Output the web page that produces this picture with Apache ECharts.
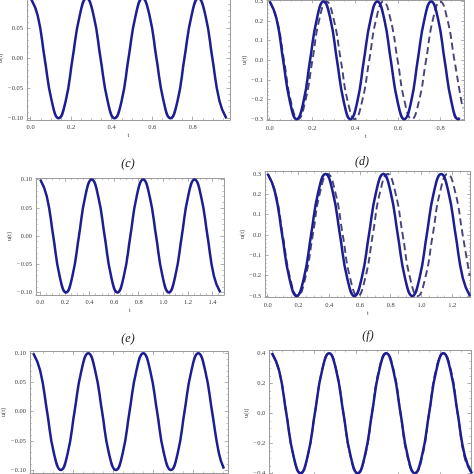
<!DOCTYPE html>
<html><head><meta charset="utf-8">
<script src="https://cdn.jsdelivr.net/npm/echarts@6/dist/echarts.min.js"></script>
<style>html,body{margin:0;padding:0;background:#fff}#c{width:474px;height:474px}</style>
</head><body><div id="c"></div>
<script>
// ---- data (t, u(t)) ----
const aT = [0,0.035,0.069,0.104,0.138,0.173,0.207,0.242,0.276,0.311,0.345,0.380,0.414,0.449,0.483,0.518,0.552,0.587,0.621,0.656,0.690,0.725,0.759,0.794,0.828,0.863,0.897,0.932,0.966];
const aU = [0.1,0.071,0,-0.071,-0.1,-0.071,0,0.071,0.1,0.071,0,-0.071,-0.1,-0.071,0,0.071,0.1,0.071,0,-0.071,-0.1,-0.071,0,0.071,0.1,0.071,0,-0.071,-0.1];

const bT = [0,0.032,0.063,0.095,0.126,0.158,0.189,0.221,0.252,0.284,0.315,0.347,0.378,0.410,0.441,0.473,0.504,0.536,0.567,0.599,0.630,0.662,0.693,0.725,0.756,0.788,0.819,0.851,0.882,0.890];
const bU = [0.3,0.212,0,-0.212,-0.3,-0.212,0,0.212,0.3,0.212,0,-0.212,-0.3,-0.212,0,0.212,0.3,0.212,0,-0.212,-0.3,-0.212,0,0.212,0.3,0.212,0,-0.212,-0.3,-0.294];
const bDT = [0,0.033,0.067,0.100,0.133,0.166,0.200,0.233,0.266,0.299,0.333,0.366,0.399,0.432,0.466,0.499,0.532,0.565,0.599,0.632,0.665,0.698,0.732,0.765,0.798,0.831,0.865,0.898,0.905];
const bDU = [0.3,0.212,0,-0.212,-0.3,-0.212,0,0.212,0.3,0.212,0,-0.212,-0.3,-0.212,0,0.212,0.3,0.212,0,-0.212,-0.3,-0.212,0,0.212,0.3,0.212,0,-0.212,-0.245];

const cT = [0,0.052,0.105,0.157,0.209,0.261,0.314,0.366,0.418,0.470,0.523,0.575,0.627,0.679,0.732,0.784,0.836,0.888,0.941,0.993,1.045,1.097,1.150,1.202,1.254,1.306,1.359,1.411,1.463];
const cU = [0.1,0.071,0,-0.071,-0.1,-0.071,0,0.071,0.1,0.071,0,-0.071,-0.1,-0.071,0,0.071,0.1,0.071,0,-0.071,-0.1,-0.071,0,0.071,0.1,0.071,0,-0.071,-0.1];

const dT = [0,0.047,0.094,0.141,0.188,0.235,0.282,0.329,0.376,0.423,0.470,0.517,0.564,0.611,0.658,0.705,0.752,0.799,0.846,0.893,0.940,0.987,1.034,1.081,1.128,1.175,1.222,1.269,1.316];
const dU = [0.3,0.212,0,-0.212,-0.3,-0.212,0,0.212,0.3,0.212,0,-0.212,-0.3,-0.212,0,0.212,0.3,0.212,0,-0.212,-0.3,-0.212,0,0.212,0.3,0.212,0,-0.212,-0.3];
const dDT = [0,0.049,0.098,0.146,0.195,0.244,0.293,0.341,0.390,0.439,0.488,0.536,0.585,0.634,0.683,0.731,0.780,0.829,0.878,0.926,0.975,1.024,1.073,1.121,1.170,1.219,1.268,1.313];
const dDU = [0.3,0.212,0,-0.212,-0.3,-0.212,0,0.212,0.3,0.212,0,-0.212,-0.3,-0.212,0,0.212,0.3,0.212,0,-0.212,-0.3,-0.212,0,0.212,0.3,0.212,0,-0.2];

const eT = [0,0.034,0.069,0.103,0.138,0.172,0.206,0.241,0.275,0.309,0.344,0.378,0.413,0.447,0.481,0.516,0.550,0.584,0.619,0.653,0.688,0.722,0.756,0.791,0.825,0.859,0.894,0.928,0.953];
const eU = [0.1,0.071,0,-0.071,-0.1,-0.071,0,0.071,0.1,0.071,0,-0.071,-0.1,-0.071,0,0.071,0.1,0.071,0,-0.071,-0.1,-0.071,0,0.071,0.1,0.071,0,-0.071,-0.0975];

const fT = [0,0.034,0.068,0.102,0.136,0.170,0.204,0.238,0.272,0.306,0.340,0.374,0.408,0.442,0.476,0.510,0.544,0.578,0.612,0.646,0.680,0.714,0.748,0.782,0.816,0.850,0.884,0.918,0.952];
const fU = [0.4,0.283,0,-0.283,-0.4,-0.283,0,0.283,0.4,0.283,0,-0.283,-0.4,-0.283,0,0.283,0.4,0.283,0,-0.283,-0.4,-0.283,0,0.283,0.4,0.283,0,-0.283,-0.4];
const fDU = [0.4,0.283,0,-0.283,-0.4,-0.283,0,0.283,0.4,0.29,0,-0.29,-0.4,-0.292,0,0.294,0.4,0.296,0,-0.296,-0.4,-0.298,0,0.298,0.4,0.3,0,-0.3,-0.4];

const captions = ['(c)', '(d)', '(e)', '(f)'];
const xTitle = 't';
const yTitle = 'u(t)';

// ---- layout (pixels) ----
const panels = [
  {left:27,    top:-3.4,  width:203,   height:123.4, xMin:-0.018,  xMax:0.984, xStep:0.2, xDec:1, yMin:-0.1028, yMax:0.1028, yStep:0.05, yDec:2, yMinor:5, yGap:20, xGap:11},
  {left:267,   top:-0.1,  width:197.7, height:120.8, xMin:-0.0126, xMax:0.913, xStep:0.2, xDec:1, yMin:-0.308,  yMax:0.308,  yStep:0.1,  yDec:1, yMinor:5, yGap:17, xGap:11},
  {left:36,    top:178.3, width:188,   height:116.7, xMin:-0.035,  xMax:1.493, xStep:0.2, xDec:1, yMin:-0.1046, yMax:0.1023, yStep:0.05, yDec:2, yMinor:5, yGap:22, xGap:10},
  {left:265,   top:171.7, width:205.7, height:125.6, xMin:-0.0176, xMax:1.32,  xStep:0.2, xDec:1, yMin:-0.306,  yMax:0.311,  yStep:0.1,  yDec:1, yMinor:5, yGap:17, xGap:12},
  {left:30,    top:351.7, width:198.3, height:121.6, xMin:-0.0165, xMax:0.975, xStep:0.2, xDec:1, yMin:-0.1055, yMax:0.1028, yStep:0.05, yDec:2, yMinor:5, yGap:17, xGap:11},
  {left:269.3, top:350.7, width:201.8, height:125.2, xMin:-0.013,  xMax:0.948, xStep:0.2, xDec:1, yMin:-0.417,  yMax:0.417,  yStep:0.2,  yDec:1, yMinor:4, yGap:20, xGap:11}
];
const captionPos = [[128,164],[362,162],[128,338.5],[368,335.5]];

const curves = [
  {p:0, t:aT,  u:aU,  dashed:false},
  {p:1, t:bDT, u:bDU, dashed:true},
  {p:1, t:bT,  u:bU,  dashed:false},
  {p:2, t:cT,  u:cU,  dashed:false},
  {p:3, t:dDT, u:dDU, dashed:true},
  {p:3, t:dT,  u:dU,  dashed:false},
  {p:4, t:eT,  u:eU,  dashed:false},
  {p:5, t:fT,  u:fDU, dashed:true},
  {p:5, t:fT,  u:fU,  dashed:false}
];

const FRAME = '#9c9c9c', LABEL = '#444', FONT = '"Liberation Serif", serif';
function fmt(dec){ return v => { if (Math.abs(v) < 1e-9) v = 0; return (v < 0 ? '\u2212' : '') + Math.abs(v).toFixed(dec); }; }

const grid = [], xAxis = [], yAxis = [];
panels.forEach((P, i) => {
  grid.push({left:P.left, top:P.top, width:P.width, height:P.height, containLabel:false, outerBoundsMode:'none'});
  const common = {
    type:'value', gridIndex:i, splitLine:{show:false},
    axisLine:{show:true, onZero:false, lineStyle:{color:FRAME, width:1}},
    axisTick:{show:true, inside:true, length:3.5, lineStyle:{color:FRAME, width:0.8}},
    minorTick:{show:true, length:1.8, lineStyle:{color:FRAME, width:0.6}}
  };
  const xc = Object.assign({}, common, {min:P.xMin, max:P.xMax, minInterval:P.xStep, maxInterval:P.xStep, splitNumber:5});
  const yc = Object.assign({}, common, {min:P.yMin, max:P.yMax, minInterval:P.yStep, maxInterval:P.yStep, splitNumber:4});
  xAxis.push(Object.assign({}, xc, {position:'bottom',
    minorTick:Object.assign({}, common.minorTick, {splitNumber:4}),
    axisLabel:{show:true, fontSize:6.5, color:LABEL, fontFamily:FONT, margin:4, showMinLabel:false, showMaxLabel:false, formatter:fmt(P.xDec)},
    name:xTitle, nameLocation:'middle', nameGap:P.xGap, nameTextStyle:{fontSize:6.5, color:LABEL, fontFamily:FONT}}));
  xAxis.push(Object.assign({}, xc, {position:'top', minorTick:Object.assign({}, common.minorTick, {splitNumber:4}), axisLabel:{show:false}}));
  yAxis.push(Object.assign({}, yc, {position:'left',
    minorTick:Object.assign({}, common.minorTick, {splitNumber:P.yMinor}),
    axisLabel:{show:true, fontSize:6.5, color:LABEL, fontFamily:FONT, margin:4, showMinLabel:false, showMaxLabel:false, formatter:fmt(P.yDec)},
    name:yTitle, nameLocation:'middle', nameGap:P.yGap, nameTextStyle:{fontSize:6.5, color:LABEL, fontFamily:FONT}}));
  yAxis.push(Object.assign({}, yc, {position:'right', minorTick:Object.assign({}, common.minorTick, {splitNumber:P.yMinor}), axisLabel:{show:false}}));
});

const series = curves.map(c => ({
  type:'line', xAxisIndex:c.p*2, yAxisIndex:c.p*2,
  data:c.t.map((t, k) => [t, c.u[k]]),
  showSymbol:false, smooth:0.5, clip:true, silent:true,
  lineStyle: c.dashed ? {color:'#44447a', width:1.9, type:[7,4]} : {color:'#1d1d94', width:2.5},
  z: c.dashed ? 2 : 3
}));

const graphic = captions.map((txt, i) => ({
  type:'text', x:captionPos[i][0], y:captionPos[i][1],
  style:{text:txt, fill:'#222', font:'italic 12px "Liberation Serif", serif', align:'center', verticalAlign:'middle'}
}));

const chart = echarts.init(document.getElementById('c'), null, {renderer:'canvas'});
chart.setOption({backgroundColor:'#fff', animation:false, grid, xAxis, yAxis, series, graphic});
</script></body></html>
